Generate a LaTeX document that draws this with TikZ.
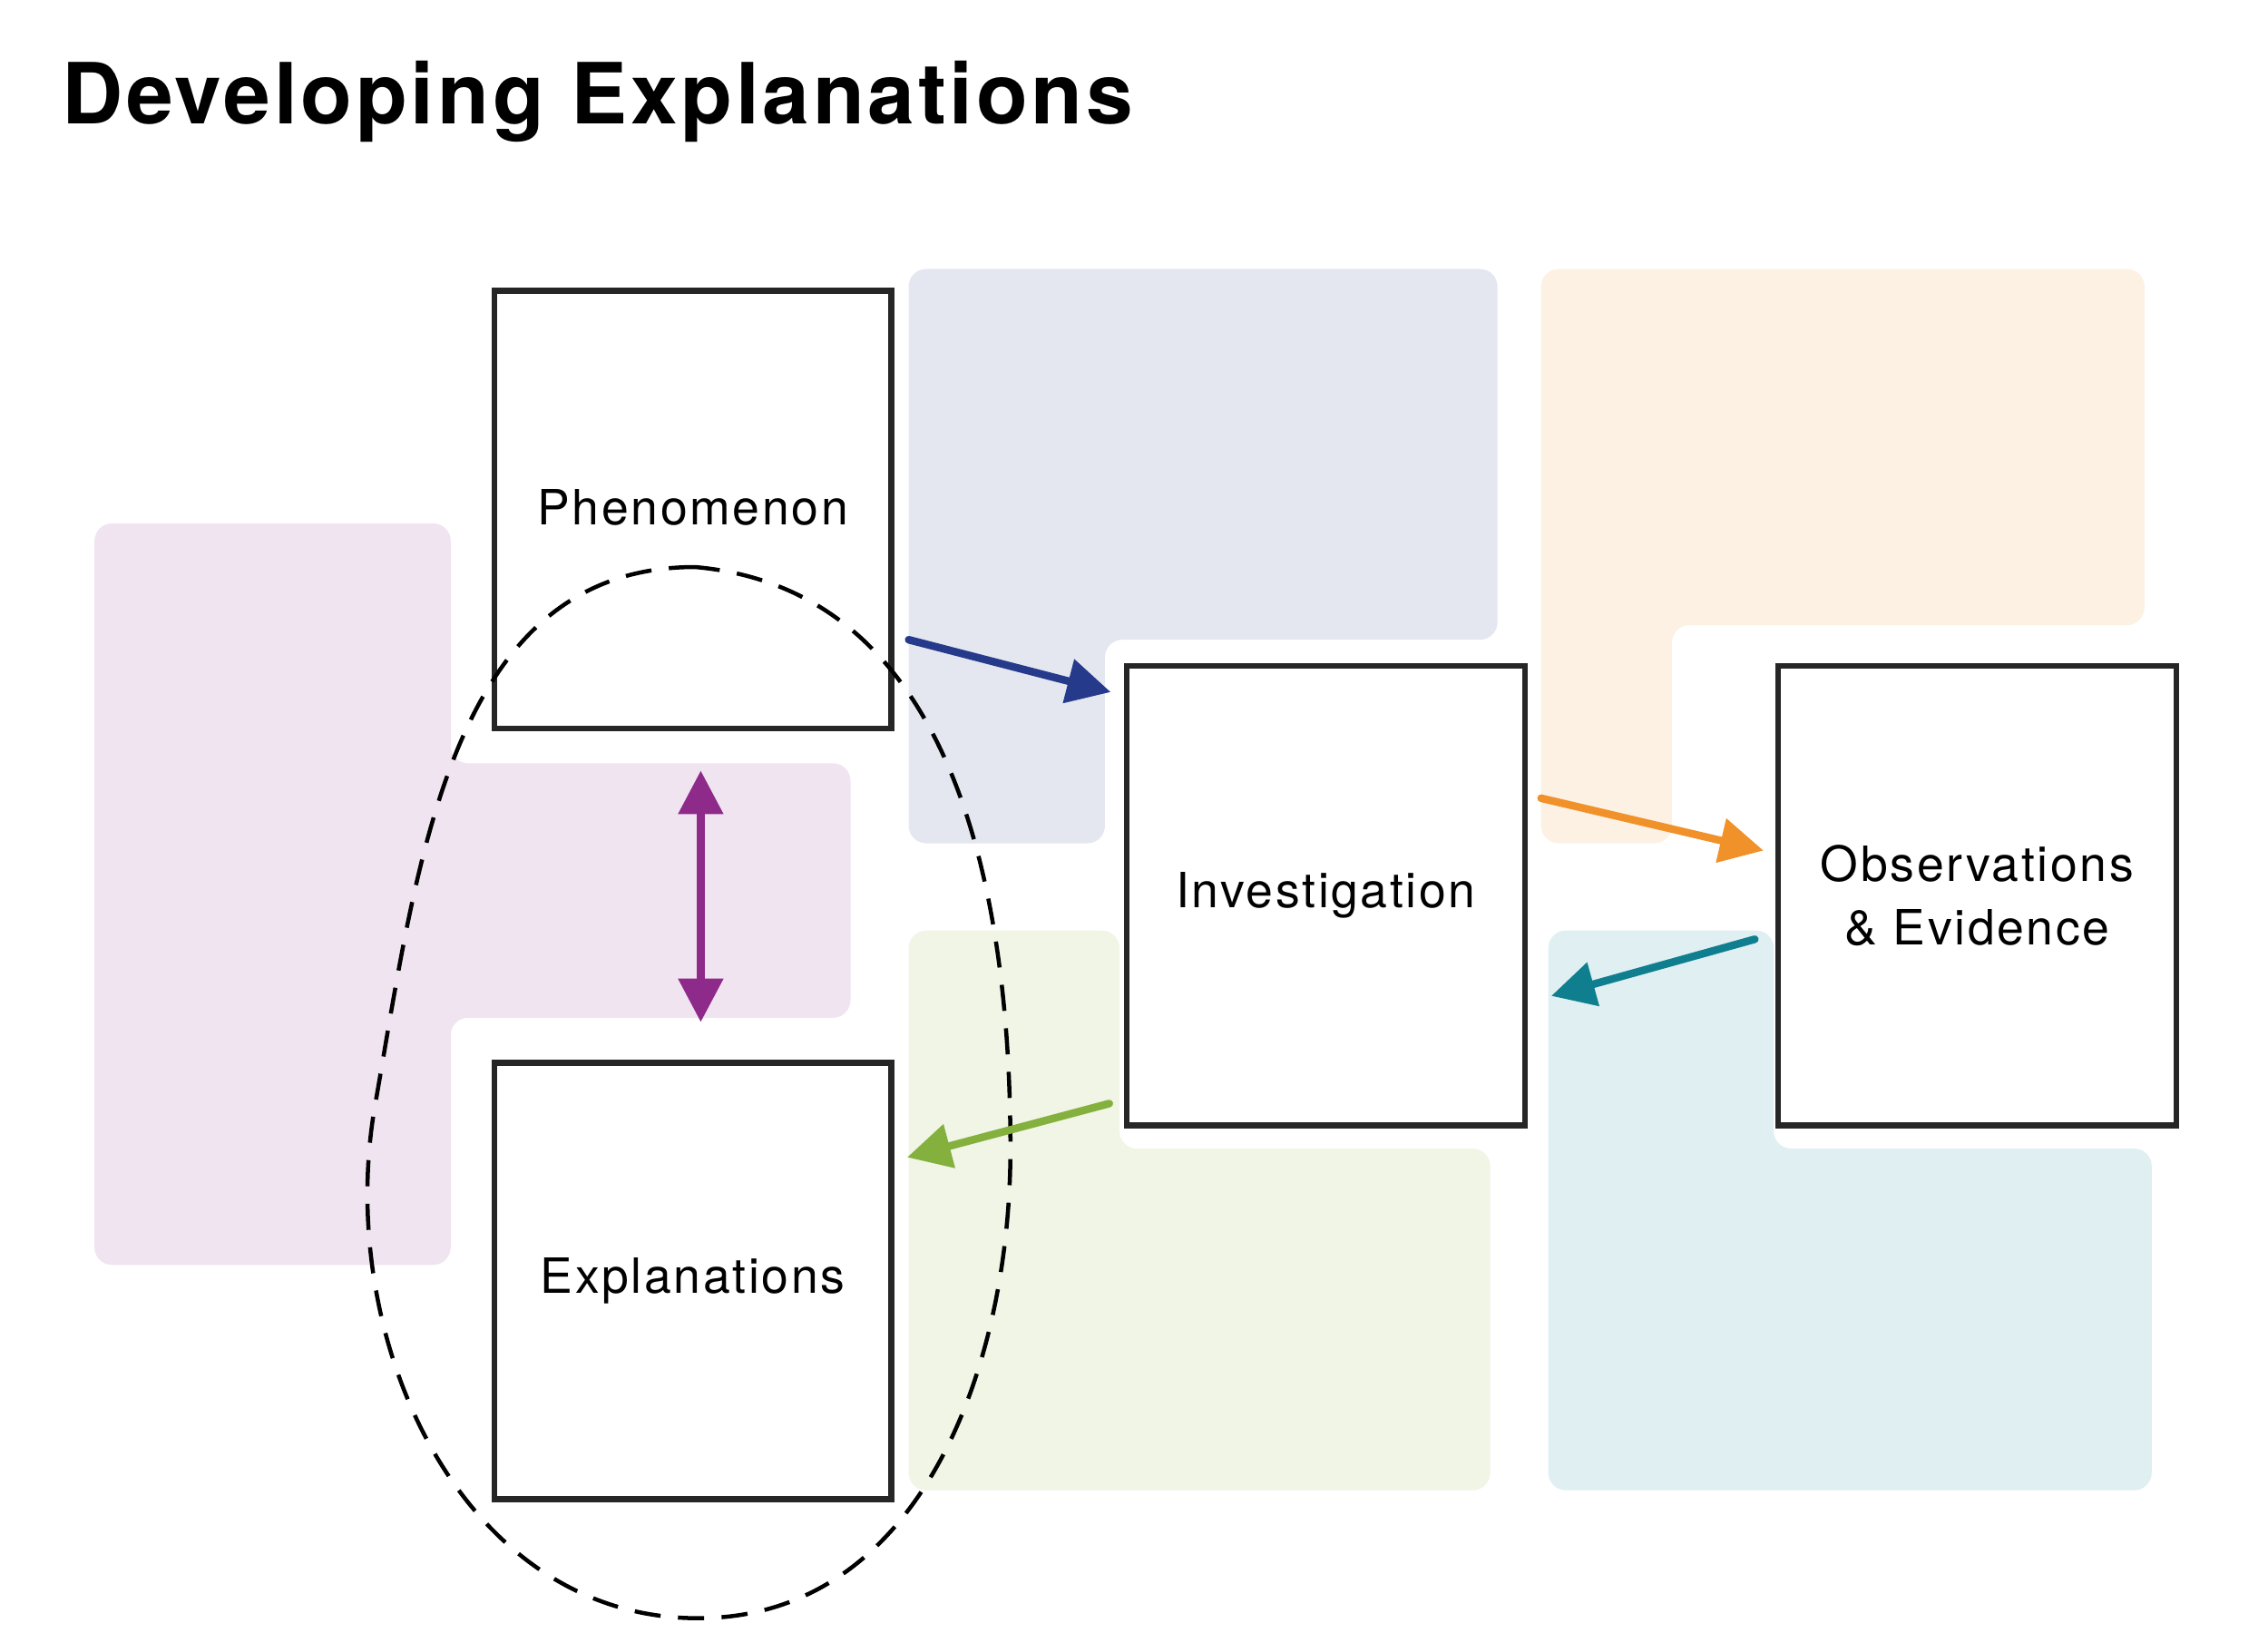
\documentclass[tikz,border=0pt]{standalone}
\usepackage{fontspec}
\setmainfont{TeX Gyre Heros}
\newfontfamily\titlefont[LetterSpace=4]{TeX Gyre Heros}
\newfontfamily\boxfont[LetterSpace=5]{TeX Gyre Heros}
\usetikzlibrary{arrows.meta}
\definecolor{cblue}{HTML}{253A8A}
\definecolor{corange}{HTML}{F0912A}
\definecolor{cteal}{HTML}{0F7F8F}
\definecolor{cgreen}{HTML}{84B03E}
\definecolor{cpurple}{HTML}{8E2A8A}
\definecolor{bgblue}{HTML}{E4E7F0}
\definecolor{bgorange}{HTML}{FDF1E4}
\definecolor{bggreen}{HTML}{F0F5E6}
\definecolor{bgteal}{HTML}{E0EFF2}
\definecolor{bgpurple}{HTML}{F0E4F0}
\tikzset{
  box/.style={draw=black!85,line width=1.15pt,fill=white,inner sep=0pt,font=\boxfont\fontsize{9.5}{12.5}\selectfont,align=center},
  btext/.style={font=\boxfont\fontsize{9.5}{12.5}\selectfont},
  arr/.style={line width=1.5pt,-{Triangle[length=0.3cm,width=0.3cm]}},
  bg/.style={rounded corners=0.12cm}
}
\begin{document}
\begin{tikzpicture}[x=0.01cm,y=-0.01cm]
\useasboundingbox (0,0) rectangle (1560,1123);
% backgrounds
\fill[bg,bgblue] (625,185) -- (1030,185) -- (1030,440) -- (760,440) -- (760,580) -- (625,580) -- cycle;
\fill[bg,bgorange] (1060,185) -- (1475,185) -- (1475,430) -- (1150,430) -- (1150,580) -- (1060,580) -- cycle;
\fill[bg,bggreen] (625,640) -- (770,640) -- (770,790) -- (1025,790) -- (1025,1025) -- (625,1025) -- cycle;
\fill[bg,bgteal] (1065,640) -- (1220,640) -- (1220,790) -- (1480,790) -- (1480,1025) -- (1065,1025) -- cycle;
\fill[bg,bgpurple] (65,360) -- (310,360) -- (310,525) -- (585,525) -- (585,700) -- (310,700) -- (310,870) -- (65,870) -- cycle;
% title
\node[anchor=base west,inner sep=0pt,font=\titlefont\fontsize{16.5}{19}\selectfont\bfseries] (title) at (42,85) {Developing Explanations};
% boxes
\node[box,minimum width=2.73cm,minimum height=3.01cm] (phen) at (476.5,350.5) {};
\node[btext] (phent) at (476.5,349) {Phenomenon};
\node[box,minimum width=2.74cm,minimum height=3.16cm] (inv) at (912,616) {Investigation};
\node[box,minimum width=2.74cm,minimum height=3.16cm] (obs) at (1360,616) {Observations\\\& Evidence};
\node[box,minimum width=2.73cm,minimum height=3.0cm] (expl) at (476.5,881) {};
\node[btext] (explt) at (476.5,881) {Explanations};
% dashed loop
\draw[line width=0.8pt,dash pattern=on 0.18cm off 0.12cm] (478,390) to[out=180,in=80] (258,760) to[out=-100,in=180] (480,1113) to[out=0,in=-90] (695,790) to[out=90,in=-5] (478,390);
% arrows
\coordinate (b1) at (625,440); \coordinate (b2) at (764,476);
\coordinate (o1) at (1060,549); \coordinate (o2) at (1213,585);
\coordinate (t1) at (1207,646); \coordinate (t2) at (1067,685);
\coordinate (g1) at (763,759); \coordinate (g2) at (624,796);
\coordinate (p1) at (482,530); \coordinate (p2) at (482,703);
\draw[arr,cblue,line cap=round] (b1) -- (b2);
\draw[arr,corange,line cap=round] (o1) -- (o2);
\draw[arr,cteal,line cap=round] (t1) -- (t2);
\draw[arr,cgreen,line cap=round] (g1) -- (g2);
\draw[line width=1.5pt,cpurple,{Triangle[length=0.3cm,width=0.3cm]}-{Triangle[length=0.3cm,width=0.3cm]}] (p1) -- (p2);
\end{tikzpicture}
\end{document}
